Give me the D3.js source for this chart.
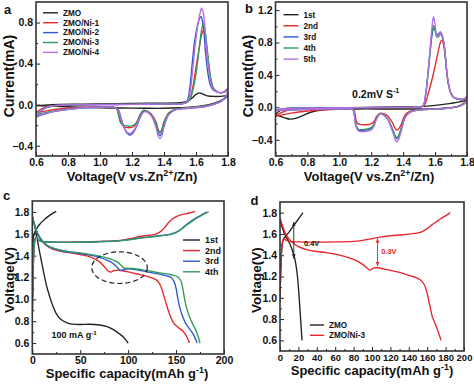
<!DOCTYPE html>
<html>
<head>
<meta charset="utf-8">
<script src="https://cdn.jsdelivr.net/npm/d3@7"></script>
<style>
body { margin: 0; background: #fff; }
svg { display: block; font-family: "Liberation Sans", Arial, sans-serif; font-weight: bold; }
</style>
</head>
<body>
<div id="chart"></div>
<script>
// ---- panel a: CV of ZMO and ZMO/Ni-x  [V, mA] ----
var aZMO = [[0.6,-0.01],[0.7,0.0],[0.9,0.005],[1.1,0.01],[1.3,0.015],[1.5,0.02],[1.55,0.035],[1.58,0.07],[1.6,0.1],[1.62,0.115],[1.64,0.105],[1.67,0.085],[1.72,0.08],[1.78,0.085],[1.8,0.09],
  [1.78,0.06],[1.74,0.03],[1.68,0.0],[1.6,-0.02],[1.5,-0.03],[1.4,-0.035],[1.3,-0.035],[1.2,-0.033],[1.0,-0.03],[0.8,-0.02],[0.6,-0.01]];
var aNi1 = [[0.6,-0.08],[0.63,-0.045],[0.67,-0.02],[0.75,-0.005],[0.9,0.0],[1.1,0.003],[1.3,0.005],[1.5,0.01],[1.54,0.02],[1.56,0.05],[1.58,0.17],[1.6,0.36],[1.62,0.55],[1.635,0.68],[1.645,0.72],[1.655,0.69],[1.665,0.58],[1.68,0.38],[1.695,0.22],[1.71,0.15],[1.74,0.12],[1.77,0.12],[1.8,0.14],
  [1.79,0.09],[1.76,0.04],[1.72,0.01],[1.65,-0.015],[1.55,-0.03],[1.47,-0.045],[1.43,-0.08],[1.4,-0.17],[1.385,-0.25],[1.375,-0.27],[1.365,-0.25],[1.35,-0.17],[1.32,-0.09],[1.29,-0.06],[1.27,-0.06],[1.25,-0.1],[1.23,-0.17],[1.21,-0.215],[1.18,-0.225],[1.15,-0.215],[1.13,-0.17],[1.115,-0.08],[1.1,-0.03],[1.0,-0.02],[0.9,-0.025],[0.8,-0.035],[0.7,-0.05],[0.6,-0.08]];
var aNi2 = [[0.6,-0.12],[0.62,-0.08],[0.65,-0.04],[0.7,-0.015],[0.8,-0.003],[1.0,0.0],[1.2,0.003],[1.4,0.006],[1.52,0.01],[1.545,0.04],[1.56,0.15],[1.575,0.38],[1.59,0.6],[1.605,0.74],[1.62,0.83],[1.63,0.86],[1.64,0.82],[1.65,0.7],[1.66,0.5],[1.675,0.3],[1.69,0.19],[1.71,0.14],[1.74,0.12],[1.77,0.12],[1.8,0.15],
  [1.79,0.08],[1.76,0.035],[1.72,0.008],[1.65,-0.02],[1.55,-0.035],[1.47,-0.05],[1.43,-0.09],[1.4,-0.2],[1.385,-0.28],[1.375,-0.3],[1.365,-0.28],[1.35,-0.2],[1.32,-0.1],[1.29,-0.065],[1.27,-0.07],[1.25,-0.13],[1.22,-0.24],[1.2,-0.285],[1.185,-0.295],[1.17,-0.28],[1.15,-0.22],[1.13,-0.12],[1.115,-0.05],[1.1,-0.03],[1.0,-0.025],[0.9,-0.03],[0.8,-0.045],[0.7,-0.07],[0.6,-0.12]];
var aNi3 = [[0.6,-0.1],[0.63,-0.06],[0.67,-0.025],[0.75,-0.007],[0.9,0.0],[1.1,0.003],[1.3,0.005],[1.5,0.01],[1.54,0.02],[1.56,0.045],[1.58,0.14],[1.6,0.3],[1.62,0.55],[1.635,0.73],[1.645,0.79],[1.655,0.74],[1.665,0.62],[1.68,0.4],[1.695,0.24],[1.71,0.16],[1.74,0.12],[1.77,0.12],[1.8,0.15],
  [1.79,0.09],[1.76,0.04],[1.72,0.01],[1.65,-0.015],[1.55,-0.03],[1.47,-0.045],[1.43,-0.08],[1.4,-0.17],[1.385,-0.25],[1.375,-0.27],[1.365,-0.25],[1.35,-0.18],[1.32,-0.1],[1.29,-0.06],[1.27,-0.055],[1.25,-0.1],[1.23,-0.17],[1.21,-0.2],[1.18,-0.21],[1.15,-0.2],[1.13,-0.18],[1.115,-0.1],[1.1,-0.035],[1.0,-0.025],[0.9,-0.03],[0.8,-0.045],[0.7,-0.065],[0.6,-0.1]];
var aNi4 = [[0.6,-0.11],[0.62,-0.07],[0.65,-0.035],[0.7,-0.012],[0.8,-0.002],[1.0,0.0],[1.2,0.003],[1.4,0.006],[1.52,0.01],[1.55,0.04],[1.565,0.14],[1.58,0.35],[1.595,0.58],[1.61,0.76],[1.625,0.89],[1.635,0.94],[1.645,0.9],[1.655,0.76],[1.665,0.56],[1.68,0.33],[1.695,0.2],[1.71,0.15],[1.74,0.12],[1.77,0.12],[1.8,0.16],
  [1.79,0.09],[1.76,0.035],[1.72,0.008],[1.65,-0.02],[1.55,-0.035],[1.47,-0.05],[1.43,-0.1],[1.4,-0.22],[1.385,-0.31],[1.375,-0.33],[1.365,-0.31],[1.35,-0.22],[1.32,-0.11],[1.29,-0.07],[1.27,-0.075],[1.25,-0.13],[1.22,-0.23],[1.2,-0.27],[1.185,-0.28],[1.17,-0.27],[1.15,-0.22],[1.13,-0.13],[1.115,-0.055],[1.1,-0.03],[1.0,-0.025],[0.9,-0.03],[0.8,-0.045],[0.7,-0.07],[0.6,-0.11]];

// ---- panel b: CV cycles of ZMO/Ni-3 ----
var b1st = [[0.6,-0.09],[0.62,-0.05],[0.65,-0.02],[0.7,-0.01],[0.9,-0.005],[1.2,0.0],[1.4,0.005],[1.5,0.01],[1.6,0.025],[1.7,0.05],[1.78,0.08],[1.8,0.1],
  [1.78,0.05],[1.74,0.01],[1.65,-0.015],[1.5,-0.02],[1.3,-0.02],[1.1,-0.02],[0.9,-0.03],[0.82,-0.06],[0.76,-0.11],[0.72,-0.14],[0.69,-0.145],[0.66,-0.13],[0.63,-0.11],[0.6,-0.09]];
var b2nd = [[0.6,-0.11],[0.63,-0.07],[0.67,-0.04],[0.72,-0.02],[0.8,-0.01],[1.0,-0.005],[1.3,0.0],[1.5,0.005],[1.53,0.02],[1.56,0.19],[1.59,0.42],[1.61,0.6],[1.63,0.78],[1.64,0.83],[1.65,0.8],[1.665,0.6],[1.68,0.32],[1.7,0.17],[1.72,0.12],[1.75,0.1],[1.78,0.1],[1.8,0.13],
  [1.79,0.07],[1.76,0.02],[1.7,-0.005],[1.6,-0.02],[1.5,-0.03],[1.44,-0.05],[1.41,-0.1],[1.39,-0.2],[1.37,-0.27],[1.36,-0.28],[1.35,-0.26],[1.33,-0.18],[1.3,-0.1],[1.27,-0.075],[1.255,-0.075],[1.235,-0.11],[1.215,-0.18],[1.19,-0.21],[1.16,-0.215],[1.13,-0.21],[1.11,-0.19],[1.1,-0.1],[1.09,-0.035],[1.0,-0.025],[0.9,-0.03],[0.8,-0.045],[0.7,-0.07],[0.6,-0.11]];
var b3rd = [[0.6,-0.04],[0.65,-0.02],[0.75,-0.01],[1.0,-0.005],[1.3,0.0],[1.5,0.005],[1.525,0.02],[1.54,0.15],[1.555,0.4],[1.57,0.7],[1.58,0.88],[1.59,0.97],[1.6,0.95],[1.61,0.9],[1.62,0.9],[1.632,0.93],[1.645,0.88],[1.66,0.72],[1.67,0.5],[1.683,0.3],[1.7,0.17],[1.72,0.12],[1.75,0.1],[1.78,0.1],[1.8,0.13],
  [1.79,0.06],[1.76,0.02],[1.7,-0.005],[1.6,-0.02],[1.5,-0.03],[1.44,-0.06],[1.41,-0.13],[1.39,-0.25],[1.37,-0.36],[1.36,-0.385],[1.35,-0.36],[1.33,-0.26],[1.3,-0.14],[1.27,-0.085],[1.255,-0.08],[1.235,-0.13],[1.215,-0.22],[1.2,-0.26],[1.17,-0.28],[1.14,-0.285],[1.12,-0.28],[1.105,-0.23],[1.095,-0.1],[1.085,-0.03],[1.0,-0.02],[0.9,-0.02],[0.8,-0.025],[0.7,-0.03],[0.6,-0.04]];
var b4th = [[0.6,-0.035],[0.65,-0.02],[0.75,-0.01],[1.0,-0.005],[1.3,0.0],[1.5,0.005],[1.525,0.02],[1.54,0.14],[1.555,0.4],[1.57,0.72],[1.58,0.92],[1.59,1.01],[1.6,0.95],[1.61,0.87],[1.62,0.87],[1.632,0.9],[1.645,0.87],[1.66,0.72],[1.67,0.5],[1.683,0.3],[1.7,0.17],[1.72,0.12],[1.75,0.1],[1.78,0.1],[1.8,0.13],
  [1.79,0.06],[1.76,0.02],[1.7,-0.005],[1.6,-0.02],[1.5,-0.03],[1.44,-0.06],[1.41,-0.13],[1.39,-0.25],[1.37,-0.35],[1.36,-0.375],[1.35,-0.35],[1.33,-0.25],[1.3,-0.13],[1.27,-0.08],[1.255,-0.075],[1.235,-0.125],[1.215,-0.21],[1.2,-0.25],[1.17,-0.27],[1.14,-0.275],[1.12,-0.27],[1.105,-0.22],[1.095,-0.1],[1.085,-0.03],[1.0,-0.02],[0.9,-0.02],[0.8,-0.025],[0.7,-0.03],[0.6,-0.035]];
var b5th = [[0.6,-0.035],[0.65,-0.02],[0.75,-0.01],[1.0,-0.005],[1.3,0.0],[1.5,0.005],[1.525,0.02],[1.54,0.15],[1.555,0.42],[1.57,0.75],[1.58,0.98],[1.59,1.12],[1.6,1.02],[1.61,0.89],[1.62,0.88],[1.632,0.92],[1.645,0.89],[1.66,0.73],[1.67,0.5],[1.683,0.3],[1.7,0.17],[1.72,0.12],[1.75,0.1],[1.78,0.1],[1.8,0.14],
  [1.79,0.06],[1.76,0.02],[1.7,-0.005],[1.6,-0.02],[1.5,-0.03],[1.44,-0.065],[1.41,-0.14],[1.39,-0.28],[1.37,-0.4],[1.36,-0.425],[1.35,-0.39],[1.33,-0.28],[1.3,-0.14],[1.27,-0.085],[1.255,-0.08],[1.235,-0.14],[1.215,-0.24],[1.2,-0.28],[1.17,-0.295],[1.14,-0.3],[1.12,-0.29],[1.105,-0.24],[1.095,-0.11],[1.085,-0.03],[1.0,-0.02],[0.9,-0.02],[0.8,-0.025],[0.7,-0.03],[0.6,-0.035]];

// ---- panel c: charge/discharge cycles  [mAh/g, V] ----
var c1Dis = [[0,1.76],[3,1.65],[6,1.51],[9,1.37],[12,1.24],[15,1.12],[18,1.03],[21,0.95],[25,0.87],[30,0.815],[35,0.79],[40,0.775],[50,0.77],[60,0.772],[70,0.765],[78,0.75],[85,0.72],[90,0.69],[95,0.655],[100,0.6]];
var c1Chg = [[0,0.9],[0.5,1.35],[1,1.55],[2,1.6],[5,1.655],[8,1.69],[12,1.725],[16,1.755],[20,1.78],[25,1.805]];
var c2Dis = [[0,1.76],[3,1.66],[6,1.59],[10,1.535],[15,1.49],[20,1.465],[30,1.44],[40,1.425],[50,1.41],[58,1.395],[64,1.375],[70,1.345],[75,1.3],[79,1.26],[82,1.25],[85,1.262],[89,1.268],[94,1.262],[100,1.252],[110,1.232],[120,1.21],[127,1.19],[131,1.165],[134,1.12],[137,1.04],[140,0.95],[143,0.87],[147,0.79],[152,0.745],[157,0.71],[161,0.66],[164,0.6]];
var c2Chg = [[0,0.85],[0.8,1.2],[1.5,1.42],[2.5,1.53],[4,1.57],[6,1.55],[9,1.53],[15,1.525],[30,1.523],[50,1.525],[70,1.53],[85,1.535],[95,1.545],[105,1.56],[112,1.575],[120,1.585],[128,1.595],[133,1.615],[137,1.645],[141,1.69],[146,1.735],[152,1.765],[158,1.78],[164,1.79],[170,1.805]];
var c3Dis = [[0,1.76],[3,1.66],[6,1.59],[10,1.535],[15,1.495],[20,1.47],[30,1.445],[40,1.43],[50,1.418],[60,1.405],[70,1.385],[78,1.36],[84,1.33],[89,1.29],[92,1.265],[95,1.272],[100,1.28],[110,1.268],[120,1.252],[130,1.235],[140,1.215],[145,1.2],[148,1.16],[150,1.1],[152,1.0],[154,0.92],[157,0.84],[160,0.78],[164,0.73],[168,0.68],[172,0.6]];
var c3Chg = [[0,0.85],[0.8,1.2],[1.5,1.42],[2.5,1.53],[4,1.57],[6,1.55],[9,1.53],[15,1.525],[30,1.522],[50,1.523],[70,1.528],[85,1.533],[95,1.54],[105,1.552],[115,1.565],[125,1.575],[135,1.585],[143,1.595],[149,1.61],[154,1.635],[159,1.67],[164,1.705],[169,1.735],[174,1.76],[178,1.78],[182,1.8]];
var c4Dis = [[0,1.76],[3,1.67],[6,1.6],[10,1.545],[15,1.5],[20,1.475],[30,1.45],[40,1.435],[50,1.425],[60,1.412],[70,1.395],[80,1.375],[88,1.345],[93,1.31],[96,1.285],[99,1.285],[105,1.282],[115,1.27],[125,1.255],[135,1.24],[145,1.225],[152,1.205],[155,1.17],[157,1.1],[159,1.0],[161,0.92],[164,0.84],[167,0.78],[170,0.73],[173,0.66],[175,0.6]];
var c4Chg = [[0,0.85],[0.8,1.2],[1.5,1.42],[2.5,1.53],[4,1.57],[6,1.55],[9,1.53],[15,1.525],[30,1.522],[50,1.523],[70,1.528],[85,1.533],[95,1.54],[105,1.55],[115,1.562],[125,1.572],[135,1.582],[145,1.595],[151,1.615],[156,1.645],[161,1.68],[166,1.71],[171,1.74],[176,1.765],[180,1.785],[184,1.8]];

// ---- panel d: ZMO vs ZMO/Ni-3 ----
var dZmoDis = [[0,1.72],[2,1.67],[4,1.62],[6,1.58],[8,1.55],[10,1.52],[12,1.48],[14,1.43],[16,1.37],[17.5,1.3],[19,1.2],[20,1.1],[21,0.98],[22,0.85],[23,0.72],[24,0.6]];
var dZmoChg = [[0,1.0],[1,1.3],[2,1.46],[3,1.53],[5,1.565],[10,1.62],[15,1.68],[20,1.74],[25,1.8]];
var dNiDis = [[0,1.75],[3,1.67],[6,1.6],[10,1.55],[15,1.51],[20,1.48],[30,1.45],[40,1.435],[50,1.425],[60,1.41],[70,1.39],[80,1.36],[87,1.33],[92,1.3],[96,1.27],[98,1.26],[101,1.275],[105,1.285],[110,1.275],[120,1.258],[130,1.238],[140,1.21],[148,1.19],[153,1.165],[157,1.12],[160,1.04],[162,0.96],[164,0.88],[166,0.81],[169,0.75],[172,0.68],[175,0.6]];
var dNiChg = [[0,0.95],[0.8,1.25],[1.5,1.42],[2.5,1.52],[4,1.56],[6,1.545],[9,1.532],[20,1.525],[40,1.523],[60,1.525],[80,1.53],[90,1.54],[100,1.555],[110,1.572],[120,1.582],[130,1.59],[140,1.598],[150,1.61],[155,1.625],[160,1.65],[165,1.685],[170,1.715],[175,1.745],[180,1.77],[185,1.8]];

var aNames = ["ZMO", "ZMO/Ni-1", "ZMO/Ni-2", "ZMO/Ni-3", "ZMO/Ni-4"];
var bNames = ["1st", "2nd", "3rd", "4th", "5th"];
var cNames = ["1st", "2nd", "3rd", "4th"];
var dNames = ["ZMO", "ZMO/Ni-3"];
var colors = ["#222222", "#e8262b", "#2f55d4", "#2f9c5c", "#b46ee3"];

var cvTicks = [0.6, 0.8, 1.0, 1.2, 1.4, 1.6, 1.8];
var cvMinor = [0.7, 0.9, 1.1, 1.3, 1.5, 1.7];
var aYTicks = [-0.4, 0.0, 0.4, 0.8];
var aYMinor = [-0.2, 0.2, 0.6];
var bYTicks = [-0.4, 0.0, 0.4, 0.8, 1.2];
var bYMinor = [-0.2, 0.2, 0.6, 1.0];
var vTicks = [0.6, 0.8, 1.0, 1.2, 1.4, 1.6, 1.8];
var vMinor = [0.7, 0.9, 1.1, 1.3, 1.5, 1.7];
var cXTicks = [0, 50, 100, 150, 200];
var cXMinor = [25, 75, 125, 175];
var dXTicks = [0, 20, 40, 60, 80, 100, 120, 140, 160, 180, 200];
var dXMinor = [10, 30, 50, 70, 90, 110, 130, 150, 170, 190];

var svg = d3.select("#chart").append("svg")
    .attr("width", 474)
    .attr("height", 385);

var defs = svg.append("defs");
["#222222", "#e8262b"].forEach(function(c, i) {
  defs.append("marker")
      .attr("id", "arr" + i)
      .attr("viewBox", "0 0 10 10")
      .attr("refX", 9).attr("refY", 5)
      .attr("markerWidth", 5).attr("markerHeight", 5)
      .attr("orient", "auto-start-reverse")
    .append("path")
      .attr("d", "M0,1 L10,5 L0,9 Z")
      .attr("fill", c);
});

function styleAxis(g, fs) {
  g.select(".domain").remove();
  g.attr("font-family", null).attr("font-size", null).attr("color", "#222");
  g.selectAll("text").attr("font-size", fs || 10.5).attr("fill", "#111");
  g.selectAll("line").attr("stroke-width", 1);
}

function makePanel(p) {
  var x = d3.scaleLinear().domain(p.xDomain).range([p.left, p.right]);
  var y = d3.scaleLinear().domain(p.yDomain).range([p.bottom, p.top]);
  var g = svg.append("g");

  g.append("g").attr("transform", `translate(0,${p.bottom})`)
    .call(d3.axisBottom(x).tickValues(p.xMinor).tickSize(-2).tickFormat(""))
    .call(styleAxis);
  g.append("g").attr("transform", `translate(0,${p.bottom})`)
    .call(d3.axisBottom(x).tickValues(p.xTicks).tickSize(-4).tickPadding(3).tickFormat(p.xFmt))
    .call(styleAxis, p.xFs);
  g.append("g").attr("transform", `translate(${p.left},0)`)
    .call(d3.axisLeft(y).tickValues(p.yMinor).tickSize(-2).tickFormat(""))
    .call(styleAxis);
  g.append("g").attr("transform", `translate(${p.left},0)`)
    .call(d3.axisLeft(y).tickValues(p.yTicks).tickSize(-4).tickPadding(3).tickFormat(p.yFmt))
    .call(styleAxis);

  var clipId = "clip" + p.id;
  defs.append("clipPath").attr("id", clipId)
    .append("rect")
      .attr("x", p.left).attr("y", p.top)
      .attr("width", p.right - p.left).attr("height", p.bottom - p.top);
  var plot = g.append("g").attr("clip-path", `url(#${clipId})`);

  g.append("rect")
      .attr("x", p.left).attr("y", p.top)
      .attr("width", p.right - p.left).attr("height", p.bottom - p.top)
      .attr("fill", "none")
      .attr("stroke", "#333")
      .attr("stroke-width", 1.6);

  return {g: g, plot: plot, x: x, y: y};
}

function drawLines(panel, series, cols) {
  var line = d3.line()
      .x(d => panel.x(d[0]))
      .y(d => panel.y(d[1]))
      .curve(d3.curveCatmullRom.alpha(0.5));
  series.forEach(function(s, i) {
    panel.plot.append("path")
        .datum(s)
        .attr("fill", "none")
        .attr("stroke", cols[i])
        .attr("stroke-width", 1.35)
        .attr("d", line);
  });
}

function legend(names, cols, x0, y0, step, len, fs) {
  names.forEach(function(n, i) {
    var yy = y0 + i * step;
    svg.append("line")
        .attr("x1", x0).attr("x2", x0 + len)
        .attr("y1", yy).attr("y2", yy)
        .attr("stroke", cols[i]).attr("stroke-width", 1.4);
    svg.append("text")
        .attr("x", x0 + len + 5).attr("y", yy)
        .attr("dy", "0.35em")
        .attr("font-size", fs)
        .attr("fill", "#111")
        .text(n);
  });
}

function supText(x, y, parts, fs, anchor, rot, fill) {
  var t = svg.append("text")
      .attr("x", x).attr("y", y)
      .attr("font-size", fs)
      .attr("fill", fill || "#111")
      .attr("text-anchor", anchor || "start");
  if (rot) t.attr("transform", `rotate(-90,${x},${y})`);
  t.append("tspan").text(parts[0]);
  if (parts.length > 1) {
    t.append("tspan").attr("font-size", fs * 0.68).attr("dy", -fs * 0.4).text(parts[1]);
    t.append("tspan").attr("dy", fs * 0.4).text(parts[2]);
  }
  return t;
}

var f1 = d3.format(".1f");
var f0 = d3.format("d");

// ---- a ----
var pa = makePanel({id: "a", left: 36, right: 228, top: 2, bottom: 156,
  xDomain: [0.6, 1.8], yDomain: [-0.5, 1.0],
  xTicks: cvTicks, xMinor: cvMinor, yTicks: aYTicks, yMinor: aYMinor, xFmt: f1, yFmt: f1});
drawLines(pa, [aZMO, aNi1, aNi2, aNi3, aNi4], colors);
legend(aNames, colors, 43, 12.8, 9.9, 15, 8.2);
supText(132, 181, ["Voltage(V vs.Zn", "2+", "/Zn)"], 13, "middle");
supText(14, 76, ["Current(mA)"], 14, "middle", true);

// ---- b ----
var pb = makePanel({id: "b", left: 275.5, right: 467, top: 2, bottom: 156,
  xDomain: [0.6, 1.8], yDomain: [-0.6, 1.3],
  xTicks: cvTicks, xMinor: cvMinor, yTicks: bYTicks, yMinor: bYMinor, xFmt: f1, yFmt: f1});
drawLines(pb, [b1st, b2nd, b3rd, b4th, b5th], colors);
legend(bNames, colors, 283.5, 14.7, 11.1, 15, 8.2);
supText(pb.x(1.08), pb.y(0.12), ["0.2mV S", "-1", ""], 10.5, "start");
supText(369, 181, ["Voltage(V vs.Zn", "2+", "/Zn)"], 13, "middle");
supText(253, 76, ["Current(mA)"], 14, "middle", true);

// ---- c ----
var cCols = [colors[0], colors[1], colors[2], colors[3]];
var pc = makePanel({id: "c", left: 32.3, right: 224, top: 201, bottom: 354,
  xDomain: [0, 200], yDomain: [0.5, 1.9],
  xTicks: cXTicks, xMinor: cXMinor, yTicks: vTicks, yMinor: vMinor, xFmt: f0, yFmt: f1});
drawLines(pc, [c1Dis, c1Chg, c2Dis, c2Chg, c3Dis, c3Chg, c4Dis, c4Chg],
  [cCols[0], cCols[0], cCols[1], cCols[1], cCols[2], cCols[2], cCols[3], cCols[3]]);
pc.plot.append("ellipse")
    .attr("cx", pc.x(91)).attr("cy", pc.y(1.29))
    .attr("rx", pc.x(120) - pc.x(91)).attr("ry", pc.y(1.145) - pc.y(1.29))
    .attr("fill", "none")
    .attr("stroke", "#222")
    .attr("stroke-width", 1.2)
    .attr("stroke-dasharray", "5,3");
legend(cNames, cCols, 183, 240, 10.6, 17, 9);
supText(pc.x(20), pc.y(0.645), ["100 mA g", "-1", ""], 9, "start");
supText(127, 378, ["Specific capacity(mAh g", "-1", ")"], 13, "middle");
supText(13.5, 280, ["Voltage(V)"], 13.5, "middle", true);

// ---- d ----
var dCols = [colors[0], colors[1]];
var pd = makePanel({id: "d", left: 280, right: 464, top: 202, bottom: 351,
  xDomain: [0, 200], yDomain: [0.5, 1.9], xFs: 9.5,
  xTicks: dXTicks, xMinor: dXMinor, yTicks: vTicks, yMinor: vMinor, xFmt: f0, yFmt: f1});
drawLines(pd, [dZmoDis, dZmoChg, dNiDis, dNiChg], [dCols[0], dCols[0], dCols[1], dCols[1]]);
legend(dNames, dCols, 310, 325, 10.3, 14, 8.2);
pd.g.append("line")
    .attr("x1", pd.x(15)).attr("x2", pd.x(15))
    .attr("y1", pd.y(1.5)).attr("y2", pd.y(1.71))
    .attr("stroke", "#222").attr("stroke-width", 0.9)
    .attr("marker-end", "url(#arr0)");
pd.g.append("line")
    .attr("x1", pd.x(15)).attr("x2", pd.x(15))
    .attr("y1", pd.y(1.5)).attr("y2", pd.y(1.37))
    .attr("stroke", "#222").attr("stroke-width", 0.9)
    .attr("marker-end", "url(#arr0)");
pd.g.append("line")
    .attr("x1", pd.x(106)).attr("x2", pd.x(106))
    .attr("y1", pd.y(1.555)).attr("y2", pd.y(1.3))
    .attr("stroke", "#e8262b").attr("stroke-width", 0.9)
    .attr("marker-start", "url(#arr1)")
    .attr("marker-end", "url(#arr1)");
supText(pd.x(26), pd.y(1.485), ["0.4V"], 7.5, "start");
supText(pd.x(110), pd.y(1.41), ["0.3V"], 7.5, "start", false, "#e8262b");
supText(372, 375, ["Specific capacity(mAh g", "-1", ")"], 13, "middle");
supText(261, 280, ["Voltage(V)"], 13.5, "middle", true);

// panel letters
[["a", 4, 13.5], ["b", 245, 12.5], ["c", 3, 200], ["d", 250.5, 205]].forEach(function(l) {
  svg.append("text").attr("x", l[1]).attr("y", l[2])
      .attr("font-size", 13).attr("fill", "#111").text(l[0]);
});
</script>
